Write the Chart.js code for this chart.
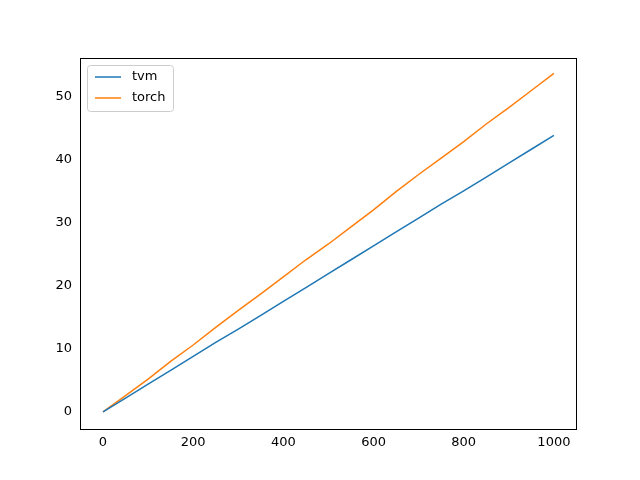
<!DOCTYPE html>
<html>
<head>
<script src="https://cdn.jsdelivr.net/npm/chart.js@4"></script>
<style>body{margin:0;background:#fff}#c{width:640px;height:480px}</style>
</head>
<body>
<div id="c"><canvas id="chart" width="640" height="480"></canvas></div>
<script>
const xs = [0, 50, 100, 150, 200, 250, 300, 350, 400, 450, 500, 550, 600, 650, 700, 750, 800, 850, 900, 950, 1000];
const tvm = [0, 2.2, 4.4, 6.6, 8.8, 11.0, 13.1, 15.3, 17.5, 19.7, 21.9, 24.1, 26.3, 28.5, 30.7, 32.9, 35.0, 37.2, 39.4, 41.6, 43.8];
const torch = [0, 2.6, 5.2, 8.0, 10.6, 13.4, 16.1, 18.7, 21.4, 24.1, 26.6, 29.3, 32.0, 34.9, 37.6, 40.2, 42.8, 45.6, 48.2, 50.9, 53.6];
const seriesNames = ['tvm', 'torch'];
const colors = ['#1f77b4', '#ff7f0e'];

const legendBox = {
  id: 'legendBox',
  afterDraw(chart) {
    const ctx = chart.ctx, a = chart.chartArea;
    const x = a.left + 7, y = a.top + 7;
    ctx.save();
    ctx.fillStyle = 'rgba(255,255,255,0.8)';
    ctx.strokeStyle = '#ccc';
    ctx.lineWidth = 1;
    ctx.beginPath();
    ctx.roundRect(x + 0.5, y + 0.5, 86, 46, 3);
    ctx.fill(); ctx.stroke();
    ctx.font = '13px "DejaVu Sans"';
    ctx.textBaseline = 'middle';
    seriesNames.forEach((n, i) => {
      const ly = y + 12 + i * 21;
      ctx.strokeStyle = colors[i];
      ctx.lineWidth = 1.5;
      ctx.beginPath(); ctx.moveTo(x + 8, ly); ctx.lineTo(x + 34, ly); ctx.stroke();
      ctx.fillStyle = '#000';
      ctx.fillText(n, x + 45, ly);
    });
    ctx.restore();
  }
};

const tickFont = { family: 'DejaVu Sans', size: 13 };
new Chart(document.getElementById('chart'), {
  type: 'line',
  data: {
    datasets: [
      { label: 'tvm', data: xs.map((x, i) => ({ x, y: tvm[i] })), borderColor: colors[0], borderWidth: 1.5, pointRadius: 0, tension: 0 },
      { label: 'torch', data: xs.map((x, i) => ({ x, y: torch[i] })), borderColor: colors[1], borderWidth: 1.5, pointRadius: 0, tension: 0 }
    ]
  },
  options: {
    responsive: false,
    animation: false,
    layout: { padding: { left: 0, top: 58, right: 64, bottom: 0 } },
    plugins: { legend: { display: false }, tooltip: { enabled: false } },
    scales: {
      x: {
        type: 'linear', min: -51, max: 1049,
        afterFit(s) { s.height = 51; },
        afterBuildTicks(s) { s.ticks = [0, 200, 400, 600, 800, 1000].map(v => ({ value: v })); },
        grid: { display: false, drawTicks: true, tickLength: 4, tickColor: '#000' },
        border: { color: '#000' },
        ticks: { color: '#000', font: tickFont, padding: 2, maxRotation: 0, callback: v => String(v) }
      },
      y: {
        min: -2.7, max: 56.05,
        afterFit(s) { s.width = 80; },
        afterBuildTicks(s) { s.ticks = [0, 10, 20, 30, 40, 50].map(v => ({ value: v })); },
        grid: { display: false, drawTicks: true, tickLength: 4, tickColor: '#000' },
        border: { color: '#000' },
        ticks: { color: '#000', font: tickFont, padding: 4, callback: v => String(v) }
      },
      x2: { position: 'top', type: 'linear', display: true, min: 0, max: 1, afterFit(s) { s.height = 0; }, ticks: { display: false }, grid: { display: false, drawTicks: false }, border: { color: '#000' } },
      y2: { position: 'right', display: true, min: 0, max: 1, afterFit(s) { s.width = 0; }, ticks: { display: false }, grid: { display: false, drawTicks: false }, border: { color: '#000' } }
    }
  },
  plugins: [legendBox]
});
</script>
</body>
</html>
